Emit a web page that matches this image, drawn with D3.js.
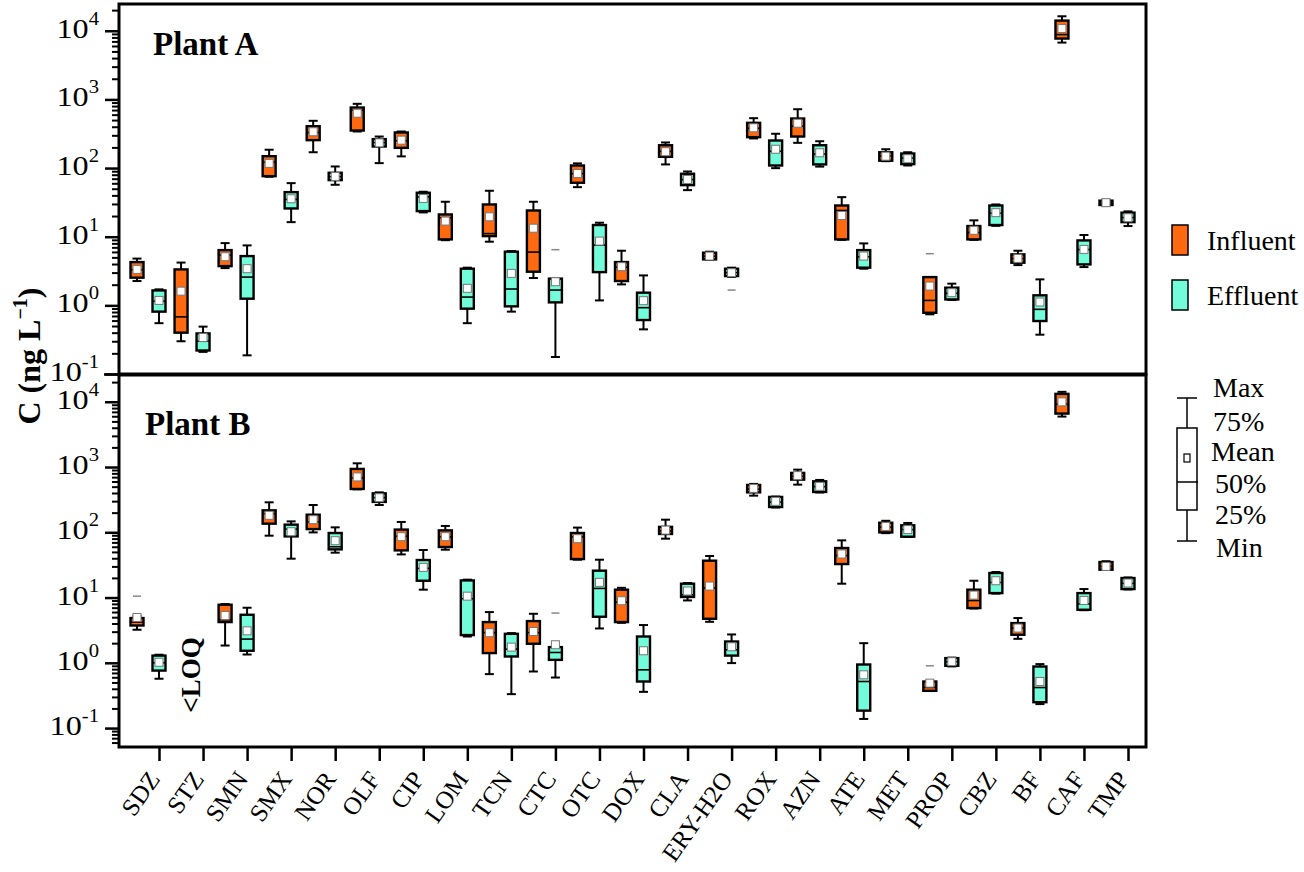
<!DOCTYPE html>
<html>
<head>
<meta charset="utf-8">
<script src="https://cdn.jsdelivr.net/npm/d3@7"></script>
<style>
  body { margin: 0; background: #fff; }
  text { font-family: "Liberation Serif", "DejaVu Serif", serif; }
</style>
</head>
<body>
<div id="chart"></div>
<script>
// data: each row is [min, 25%, 50%, 75%, max, mean] in ng/L
const categories = ["SDZ", "STZ", "SMN", "SMX", "NOR", "OLF", "CIP", "LOM", "TCN", "CTC", "OTC", "DOX",
  "CLA", "ERY-H2O", "ROX", "AZN", "ATE", "MET", "PROP", "CBZ", "BF", "CAF", "TMP"];

const plantAInfluent = [
  [2.26, 2.53, 3.3, 4.27, 4.8, 3.34], [0.30, 0.40, 0.68, 3.34, 4.2, 1.61], [3.49, 3.73, 5.4, 6.38, 8.07, 5.11],
  [74.7, 76.2, 122, 149, 185, 117], [170, 255, 330, 407, 488, 338], [341, 352, 700, 762, 863, 630],
  [148, 197, 250, 330, 341, 255], [8.9, 9.14, 18.9, 21.1, 32.3, 16.9], [8.46, 10.2, 11.1, 29.5, 46.7, 19.5],
  [2.5, 3.09, 5.97, 24.1, 32.3, 13.3], [52.7, 61.1, 83, 109, 117, 83.5], [2.02, 2.26, 3.6, 4.27, 6.25, 3.66],
  [113, 146, 175, 215, 236, 173], [4.6, 4.67, 5.2, 5.85, 6.05, 5.22], [270, 282, 380, 456, 533, 386],
  [233, 288, 407, 527, 720, 450], [9.0, 9.14, 24.1, 28.5, 37.7, 20.4], [126, 128, 150, 170, 188, 149],
  [0.74, 0.78, 1.18, 2.58, 2.58, 1.91], [9.0, 9.14, 11.5, 14.3, 17.3, 12.4], [3.86, 4.18, 4.8, 5.53, 6.25, 4.83],
  [6730, 7700, 8800, 14070, 16260, 10770], [28.5, 29, 31, 33.5, 34.5, 31.3]
];
const plantAEffluent = [
  [0.55, 0.81, 1.15, 1.65, 1.71, 1.18], [0.21, 0.22, 0.3, 0.39, 0.49, 0.34], [0.187, 1.25, 2.58, 5.22, 7.47, 3.42],
  [16.3, 25.8, 35, 44.6, 60.3, 35.7], [57.1, 66.7, 75, 85.4, 105.5, 75.5], [118, 206, 235, 264, 288, 233],
  [22.6, 23.6, 38, 43.7, 45.2, 36.1], [0.55, 0.895, 1.32, 3.42, 3.54, 1.77], [0.81, 0.967, 1.73, 6.05, 6.17, 2.92],
  [0.177, 1.105, 1.67, 2.45, 2.45, 2.21], [1.18, 3.05, 7.55, 14.8, 16.0, 8.63], [0.447, 0.611, 0.925, 1.53, 2.73, 1.17],
  [47.7, 56.4, 68, 82.6, 89.2, 68.2], [2.6, 2.67, 3.0, 3.42, 3.54, 2.99], [99.7, 109, 176, 252, 316, 188],
  [105, 113, 160, 215, 246, 167], [3.42, 3.54, 5.1, 6.38, 7.99, 5.22], [109, 114, 140, 163, 170, 137],
  [1.2, 1.22, 1.5, 1.81, 2.07, 1.53], [14.4, 14.8, 22, 28.5, 29.5, 22.4], [0.374, 0.591, 0.875, 1.40, 2.39, 1.12],
  [3.61, 3.95, 6.5, 8.83, 10.6, 6.53], [14.3, 16.3, 19, 22.4, 23.4, 18.9]
];
const plantBInfluent = [
  [3.21, 3.73, 4.21, 4.85, 5.26, 4.95], null, [1.84, 4.21, 4.57, 7.76, 7.94, 5.31],
  [88.7, 135.5, 193, 217, 288, 182], [99.6, 112, 144, 186, 262, 156], [455, 461, 680, 935, 1140, 705],
  [45.8, 52.8, 87, 110, 144, 85.6], [54.1, 59.5, 85, 107, 125, 85.6], [0.671, 1.41, 2.9, 4.21, 5.99, 2.89],
  [0.736, 1.96, 2.9, 4.36, 5.64, 3.02], [38, 38.9, 85, 97.5, 118, 79.8], [4.1, 4.21, 8.5, 13.2, 14.1, 8.93],
  [79.8, 94.2, 105, 121, 156, 108], [4.25, 4.73, 14, 36.7, 43.3, 15], [364, 409, 460, 531, 551, 471],
  [537, 641, 720, 812, 912, 738], [16.3, 32.6, 44, 57.4, 75.2, 46.5], [97, 99.6, 120, 140, 150, 123],
  [0.37, 0.372, 0.42, 0.517, 0.517, 0.488], [6.8, 6.9, 9, 13.2, 18.1, 10.9], [2.33, 2.69, 3.4, 4.06, 4.85, 3.41],
  [5930, 6590, 9200, 13210, 14190, 9960], [26.5, 26.7, 30, 35, 36, 30]
];
const plantBEffluent = [
  [0.57, 0.76, 1.0, 1.29, 1.33, 1.02], null, [1.34, 1.53, 2.31, 5.45, 6.98, 3.09],
  [39.4, 86.5, 112, 131, 147, 102], [48.7, 54.7, 60, 97.5, 119, 74.3], [262, 292, 340, 395, 409, 339],
  [13.2, 18.1, 28, 37.6, 53.5, 29], [2.53, 2.66, 9.59, 18.3, 18.8, 10.5], [0.331, 1.25, 1.62, 2.78, 2.85, 1.74],
  [0.595, 1.11, 1.44, 1.74, 1.74, 1.89], [3.36, 5.08, 13.8, 25.8, 38, 17.1], [0.359, 0.517, 0.781, 2.53, 3.79, 1.53],
  [9.03, 10.2, 11, 16.3, 16.7, 12.6], [0.99, 1.29, 1.58, 2.12, 2.72, 1.76], [240, 244, 290, 348, 352, 298],
  [407, 415, 500, 604, 634, 506], [0.138, 0.185, 0.517, 0.942, 2.0, 0.655], [85, 85.6, 110, 128, 139, 110],
  [0.88, 0.9, 1.04, 1.18, 1.2, 1.04], [11.5, 11.7, 17, 23.8, 24.6, 18.1], [0.233, 0.249, 0.418, 0.878, 0.955, 0.517],
  [6.4, 6.5, 8, 11.7, 13.5, 9.03], [13.3, 13.5, 16.5, 19.9, 20.3, 16.7]
];
// single extreme values shown as short grey dashes: [category, series (0 influent / 1 effluent), value]
const plantAOutliers = [["CTC", 1, 6.47], ["ERY-H2O", 1, 1.67], ["PROP", 0, 5.66]];
const plantBOutliers = [["SDZ", 0, 10.5], ["CTC", 1, 5.78], ["PROP", 0, 0.9]];

const seriesNames = ["Influent", "Effluent"];
const seriesColors = ["#FF6A10", "#73FCDA"];
const boxLabels = ["Max", "75%", "Mean", "50%", "25%", "Min"];

// layout
const W = 1304, H = 872;
const left = 119, right = 1146;

const svg = d3.select("#chart").append("svg")
  .attr("width", W)
  .attr("height", H);

// x: influent box on the point, effluent box one slot to the right (where the tick is)
const x = d3.scalePoint().domain(categories).range([137, 1106]);
const slot = 22;
const xTick = d3.scalePoint().domain(categories).range([137 + slot, 1106 + slot]);

const panels = [
  {name: "Plant A", top: 4, bottom: 374, domain: [0.1, Math.pow(10, 4.39)],
   series: [plantAInfluent, plantAEffluent], outliers: plantAOutliers, label: [153, 55]},
  {name: "Plant B", top: 375, bottom: 747, domain: [Math.pow(10, -1.29), Math.pow(10, 4.41)],
   series: [plantBInfluent, plantBEffluent], outliers: plantBOutliers, label: [145, 435]}
];

const decades = [0.1, 1, 10, 100, 1000, 10000];
const exps = ["-1", "0", "1", "2", "3", "4"];

panels.forEach(function(p) {
  const y = d3.scaleLog().domain(p.domain).range([p.bottom, p.top]);
  const g = svg.append("g");

  // minor ticks
  const minors = [];
  decades.forEach(function(d) {
    for (let k = 2; k <= 9; k++) {
      const v = d * k;
      if (v > p.domain[0] && v < p.domain[1]) minors.push(v);
    }
  });
  const lo = p.domain[0];
  if (lo < 0.1) for (let k = 2; k <= 9; k++) if (0.01 * k > lo) minors.push(0.01 * k);

  g.append("g")
    .attr("transform", "translate(" + left + ",0)")
    .call(d3.axisLeft(y).tickValues(minors).tickSize(7).tickFormat(""))
    .call(a => a.select(".domain").remove())
    .selectAll("line").attr("stroke", "#000").attr("stroke-width", 2);

  const major = g.append("g")
    .attr("transform", "translate(" + left + ",0)")
    .call(d3.axisLeft(y).tickValues(decades).tickSize(14).tickFormat(""))
    .call(a => a.select(".domain").remove());
  major.selectAll("line").attr("stroke", "#000").attr("stroke-width", 2.5);

  // decade labels 10^n
  decades.forEach(function(d, i) {
    const t = svg.append("text")
      .attr("transform", "translate(99," + (y(d) + 7) + ") scale(1.15,1)")
      .attr("text-anchor", "end")
      .attr("font-size", 28)
      .attr("fill", "#000");
    t.append("tspan").text("10");
    t.append("tspan").attr("font-size", 18).attr("dy", -13).text(exps[i]);
  });

  // boxes
  p.series.forEach(function(rows, s) {
    const bw = 13, cap = 9;
    const cells = rows.map((r, i) => ({cat: categories[i], r: r})).filter(d => d.r);
    const bx = g.selectAll(null).data(cells).enter().append("g")
      .attr("transform", d => "translate(" + (x(d.cat) + s * slot) + ",0)");

    bx.append("line")
      .attr("y1", d => y(d.r[0])).attr("y2", d => y(d.r[4]))
      .attr("stroke", "#000").attr("stroke-width", 2);
    bx.append("line")
      .attr("x1", -cap / 2).attr("x2", cap / 2)
      .attr("y1", d => y(d.r[4])).attr("y2", d => y(d.r[4]))
      .attr("stroke", "#000").attr("stroke-width", 2);
    bx.append("line")
      .attr("x1", -cap / 2).attr("x2", cap / 2)
      .attr("y1", d => y(d.r[0])).attr("y2", d => y(d.r[0]))
      .attr("stroke", "#000").attr("stroke-width", 2);
    bx.append("rect")
      .attr("x", -bw / 2).attr("width", bw)
      .attr("y", d => y(d.r[3]))
      .attr("height", d => Math.max(y(d.r[1]) - y(d.r[3]), 1))
      .attr("fill", seriesColors[s])
      .attr("stroke", "#000").attr("stroke-width", 2.4);
    bx.append("line")
      .attr("x1", -bw / 2).attr("x2", bw / 2)
      .attr("y1", d => y(d.r[2])).attr("y2", d => y(d.r[2]))
      .attr("stroke", "#000").attr("stroke-width", 1.6);
    bx.append("rect")
      .attr("x", -4).attr("width", 8).attr("height", 8)
      .attr("y", d => y(d.r[5]) - 4)
      .attr("fill", "#fff").attr("stroke", "#777").attr("stroke-width", 1);
  });

  g.selectAll(null).data(p.outliers).enter().append("line")
    .attr("x1", d => x(d[0]) + d[1] * slot - 4)
    .attr("x2", d => x(d[0]) + d[1] * slot + 4)
    .attr("y1", d => y(d[2])).attr("y2", d => y(d[2]))
    .attr("stroke", "#888").attr("stroke-width", 1.5);

  // frame
  g.append("rect")
    .attr("x", left).attr("y", p.top)
    .attr("width", right - left).attr("height", p.bottom - p.top)
    .attr("fill", "none").attr("stroke", "#000").attr("stroke-width", 3);

  svg.append("text")
    .attr("x", p.label[0]).attr("y", p.label[1])
    .attr("font-size", 33).attr("font-weight", "bold")
    .text(p.name);
});

// separator reaches out like a major tick
svg.append("line").attr("x1", 104).attr("x2", left)
  .attr("y1", 374.5).attr("y2", 374.5)
  .attr("stroke", "#000").attr("stroke-width", 2.5);

// <LOQ for STZ in plant B
svg.append("text")
  .attr("transform", "translate(" + (x("STZ") + 19) + ",675) rotate(-90)")
  .attr("text-anchor", "middle")
  .attr("font-size", 27).attr("font-weight", "bold")
  .text("<LOQ");

// x axis
const xAxis = svg.append("g")
  .attr("transform", "translate(0,747)")
  .call(d3.axisBottom(xTick).tickSize(14).tickFormat(""))
  .call(a => a.select(".domain").remove());
xAxis.selectAll("line").attr("stroke", "#000").attr("stroke-width", 2.5);

svg.selectAll(null).data(categories).enter().append("text")
  .attr("transform", d => "translate(" + (xTick(d) + 2) + ",779) rotate(-55)")
  .attr("text-anchor", "end")
  .attr("font-size", 25)
  .text(d => d);

// y title
const yt = svg.append("text")
  .attr("transform", "translate(40,356) rotate(-90)")
  .attr("text-anchor", "middle")
  .attr("font-size", 32).attr("font-weight", "bold");
yt.append("tspan").text("C (ng L");
yt.append("tspan").attr("font-size", 20).attr("dy", -13).text("\u22121");
yt.append("tspan").attr("dy", 13).text(")");

// legend: series
seriesNames.forEach(function(n, i) {
  svg.append("rect")
    .attr("x", 1172).attr("y", 225 + i * 55)
    .attr("width", 16).attr("height", 30)
    .attr("fill", seriesColors[i]).attr("stroke", "#000").attr("stroke-width", 1.5);
  svg.append("text")
    .attr("x", 1207).attr("y", 250 + i * 55)
    .attr("font-size", 28)
    .text(n);
});

// legend: box anatomy
const lg = svg.append("g").attr("stroke", "#000").attr("stroke-width", 1.5);
lg.append("line").attr("x1", 1187).attr("x2", 1187).attr("y1", 398).attr("y2", 541);
lg.append("line").attr("x1", 1177).attr("x2", 1197).attr("y1", 398).attr("y2", 398);
lg.append("line").attr("x1", 1177).attr("x2", 1197).attr("y1", 541).attr("y2", 541);
lg.append("rect").attr("x", 1177).attr("y", 428).attr("width", 20).attr("height", 82).attr("fill", "#fff");
lg.append("line").attr("x1", 1177).attr("x2", 1198).attr("y1", 482).attr("y2", 482);
lg.append("rect").attr("x", 1184).attr("y", 454).attr("width", 6).attr("height", 8)
  .attr("fill", "#fff").attr("stroke-width", 1.2);

const labelY = [397, 431, 461, 493, 524, 557];
const labelX = [1213, 1213, 1211, 1215, 1215, 1216];
boxLabels.forEach(function(t, i) {
  svg.append("text")
    .attr("x", labelX[i]).attr("y", labelY[i])
    .attr("font-size", 28)
    .text(t);
});
</script>
</body>
</html>
